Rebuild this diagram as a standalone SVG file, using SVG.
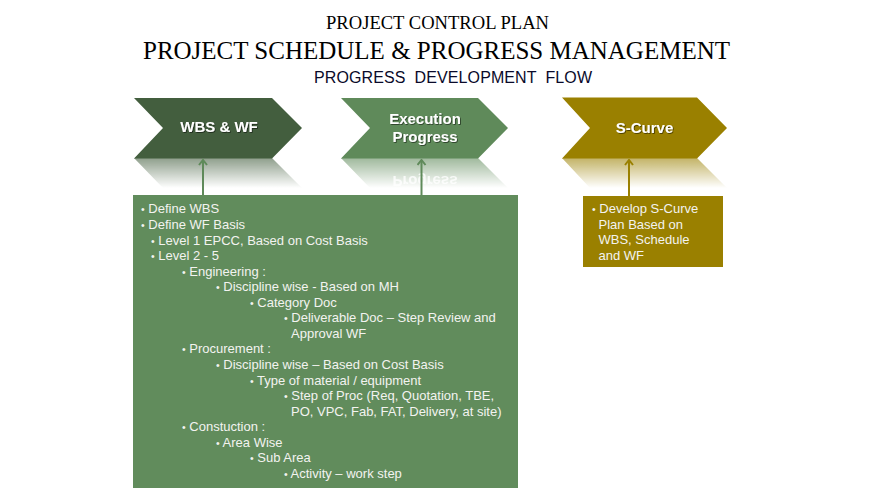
<svg xmlns="http://www.w3.org/2000/svg" width="877" height="491" viewBox="0 0 877 491">
<style>
.title{font-family:"Liberation Serif","Times New Roman",serif;fill:#000}
.sub{font-family:"Liberation Sans",Arial,sans-serif;fill:#0a0a2a}
.lbl{font-family:"Liberation Sans",Arial,sans-serif;font-weight:bold;font-size:15px;fill:#fff;text-anchor:middle}
.li{font-family:"Liberation Sans",Arial,sans-serif;font-size:13px;fill:#f3f3f0}
.b{font-size:10.5px}
.conn{fill:none;stroke-width:2}
</style>
<defs>
<linearGradient id="fade" x1="0" y1="158" x2="0" y2="188" gradientUnits="userSpaceOnUse">
<stop offset="0" stop-color="#fff" stop-opacity="0.6"/>
<stop offset="1" stop-color="#fff" stop-opacity="0"/>
</linearGradient>
<mask id="refl" maskUnits="userSpaceOnUse" x="0" y="150" width="877" height="50">
<rect x="0" y="158" width="877" height="32" fill="url(#fade)"/>
</mask>
<filter id="sh" x="-10%" y="-20%" width="120%" height="140%">
<feDropShadow dx="0.8" dy="0.8" stdDeviation="0.6" flood-color="#000" flood-opacity="0.6"/>
</filter>
<marker id="ag" markerWidth="10" markerHeight="10" refX="8.5" refY="5" orient="auto" markerUnits="userSpaceOnUse" viewBox="0 0 10 10">
<path d="M3.5,1 L8.5,5 L3.5,9" fill="none" stroke="#5f8a5a" stroke-width="2"/>
</marker>
<marker id="ao" markerWidth="10" markerHeight="10" refX="8.5" refY="5" orient="auto" markerUnits="userSpaceOnUse" viewBox="0 0 10 10">
<path d="M3.5,1 L8.5,5 L3.5,9" fill="none" stroke="#9a8000" stroke-width="2"/>
</marker>
</defs>
<rect width="877" height="491" fill="#fff"/>

<g id="titles">
<text class="title" x="437.5" y="29" font-size="18" text-anchor="middle" textLength="223" lengthAdjust="spacingAndGlyphs">PROJECT CONTROL PLAN</text>
<text class="title" x="436.5" y="59" font-size="25" text-anchor="middle" textLength="587" lengthAdjust="spacingAndGlyphs">PROJECT SCHEDULE &amp; PROGRESS MANAGEMENT</text>
<text class="sub" x="453" y="83" font-size="16" text-anchor="middle" textLength="278" lengthAdjust="spacing" xml:space="preserve">PROGRESS  DEVELOPMENT  FLOW</text>
</g>

<g id="node-wbs">
<g mask="url(#refl)">
<polygon points="134,158 272,158 302,188 272,218 134,218 163,188" fill="#435e3e"/>
</g>
<polygon points="134,98 272,98 302,128 272,158.5 134,158.5 163,128" fill="#435e3e"/>
<text class="lbl" x="219" y="132" filter="url(#sh)">WBS &amp; WF</text>
</g>

<g id="node-exec">
<g mask="url(#refl)">
<polygon points="341,158 478,158 508,188 478,218 341,218 370,188" fill="#5f8a5a"/>
<text class="lbl" x="425" y="141" transform="translate(0,317) scale(1,-1)" opacity="0.8">Progress</text>
</g>
<polygon points="341,98 478,98 508,128 478,158.5 341,158.5 370,128" fill="#5f8a5a"/>
<text class="lbl" filter="url(#sh)"><tspan x="425" y="124">Execution</tspan><tspan x="425" y="141.5">Progress</tspan></text>
</g>

<g id="node-scurve">
<g mask="url(#refl)">
<polygon points="562,158 697,158 727,188 697,218 562,218 590,188" fill="#9a8000"/>
</g>
<polygon points="562,97.5 697,97.5 727,128 697,158.5 562,158.5 590,128" fill="#9a8000"/>
<text class="lbl" x="644.5" y="132.5" filter="url(#sh)">S-Curve</text>
</g>

<g id="connectors">
<line class="conn" x1="203" y1="195" x2="203" y2="160" stroke="#5f8a5a" marker-end="url(#ag)"/>
<line class="conn" x1="421.5" y1="195" x2="421.5" y2="160" stroke="#5f8a5a" marker-end="url(#ag)"/>
<line class="conn" x1="629" y1="196" x2="629" y2="160" stroke="#9a8000" marker-end="url(#ao)"/>
</g>

<g id="node-wbs-detail">
<rect x="133" y="195" width="385" height="293" fill="#618c5c"/>
<text class="li" x="141" y="213.4"><tspan class="b">•</tspan> Define WBS</text>
<text class="li" x="141" y="229"><tspan class="b">•</tspan> Define WF Basis</text>
<text class="li" x="151" y="244.5"><tspan class="b">•</tspan> Level 1 EPCC, Based on Cost Basis</text>
<text class="li" x="151" y="260"><tspan class="b">•</tspan> Level 2 - 5</text>
<text class="li" x="182" y="275.6"><tspan class="b">•</tspan> Engineering :</text>
<text class="li" x="216" y="291.2"><tspan class="b">•</tspan> Discipline wise - Based on MH</text>
<text class="li" x="250" y="306.7"><tspan class="b">•</tspan> Category Doc</text>
<text class="li" x="284" y="322.3"><tspan class="b">•</tspan> Deliverable Doc – Step Review and</text>
<text class="li" x="291" y="337.8">Approval WF</text>
<text class="li" x="182" y="353.4"><tspan class="b">•</tspan> Procurement :</text>
<text class="li" x="216" y="368.9"><tspan class="b">•</tspan> Discipline wise – Based on Cost Basis</text>
<text class="li" x="250" y="384.5"><tspan class="b">•</tspan> Type of material / equipment</text>
<text class="li" x="284" y="400"><tspan class="b">•</tspan> Step of Proc (Req, Quotation, TBE,</text>
<text class="li" x="291" y="415.6">PO, VPC, Fab, FAT, Delivery, at site)</text>
<text class="li" x="182" y="431.2"><tspan class="b">•</tspan> Constuction :</text>
<text class="li" x="216" y="446.7"><tspan class="b">•</tspan> Area Wise</text>
<text class="li" x="250" y="462.3"><tspan class="b">•</tspan> Sub Area</text>
<text class="li" x="284" y="477.8"><tspan class="b">•</tspan> Activity – work step</text>
</g>

<g id="node-scurve-detail">
<rect x="583" y="196" width="140" height="71" fill="#9a8000"/>
<text class="li" x="592" y="213.3"><tspan class="b">•</tspan> Develop S-Curve</text>
<text class="li" x="598.5" y="228.8">Plan Based on</text>
<text class="li" x="598.5" y="244.3">WBS, Schedule</text>
<text class="li" x="598.5" y="259.8">and WF</text>
</g>
</svg>
